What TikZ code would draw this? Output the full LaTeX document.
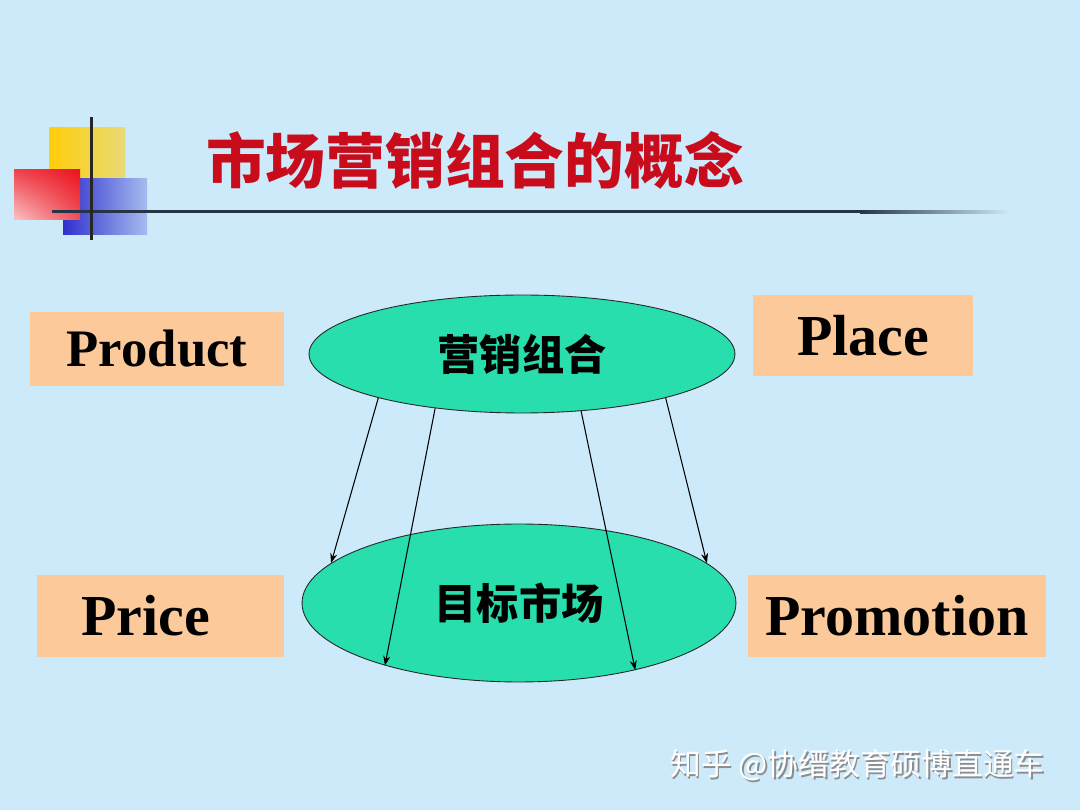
\documentclass[tikz,border=0pt]{standalone}
\usepackage{fontspec}
\setmainfont{Liberation Serif}
\newfontfamily\cjk{Noto Sans CJK SC}
\usepackage{tikz}
\usetikzlibrary{shapes.geometric, arrows.meta, shadings}
\definecolor{slidebg}{RGB}{205,234,250}
\definecolor{peach}{RGB}{252,202,154}
\definecolor{mint}{RGB}{40,222,172}
\definecolor{titlered}{RGB}{200,12,28}
\definecolor{decoyellow}{RGB}{255,206,10}
\definecolor{decoblue}{RGB}{48,48,205}
\definecolor{decored}{RGB}{235,20,32}
\definecolor{rulecolor}{RGB}{40,52,70}
\tikzstyle{factor} = [rectangle, fill=peach, inner sep=0pt, font=\bfseries\fontsize{33}{36}\selectfont]
\tikzstyle{oval} = [ellipse, draw=black!85, line width=0.5pt, fill=mint, inner sep=0pt, font=\cjk\bfseries\fontsize{24}{27}\selectfont]
\tikzstyle{arrow} = [line width=0.6pt,->,>={Stealth[length=5.5pt,width=4pt]}]

\begin{document}
\begin{tikzpicture}[x=0.02cm, y=-0.02cm]
            % slide background
            \fill[slidebg] (0,0) rectangle (1080,810);
            \useasboundingbox (0,0) rectangle (1080,810);
            
            % corner decoration
            \shade[left color=decoyellow, middle color=decoyellow, right color=decoyellow!55!slidebg] (49,128) rectangle (125,180);
            \shade[left color=decoblue, middle color=decoblue, right color=decoblue!25!slidebg] (63,179) rectangle (147,235);
            \shade[upper right=decored, upper left=decored!80!white, lower right=decored!75!white, lower left=decored!25!white] (14,170) rectangle (80,220);
            \fill[rulecolor] (52,210.5) rectangle (860,213.5);
            \shade[left color=rulecolor, right color=slidebg] (860,210.5) rectangle (1010,213.5);
            \fill[black!85] (89.5,117) rectangle (92.5,240);
            
            % Title
            \node[font=\cjk\bfseries\fontsize{34}{40}\selectfont, text=titlered] (title) at (475,160) {市场营销组合的概念};
            
            % the four Ps
            \node[factor, minimum width=5.08cm, minimum height=1.48cm, font=\bfseries\fontsize{30}{34}\selectfont] (product) at (157,349) {Product};
            \node[factor, minimum width=4.4cm, minimum height=1.62cm] (place) at (863,335.5) {Place};
            \node[factor, minimum width=4.94cm, minimum height=1.64cm] (price) at (160.5,616) {\hspace*{-0.6cm}Price};
            \node[factor, minimum width=5.96cm, minimum height=1.64cm] (promotion) at (897,616) {Promotion};
            
            % mix and target market
            \node[oval, minimum width=8.52cm, minimum height=2.36cm] (mix) at (522,354) {营销组合};
            \node[oval, minimum width=8.68cm, minimum height=3.16cm] (market) at (519,603) {目标市场};
            
            % Arrows
            \draw[arrow] (mix.-163) -- (market.168);
            \draw[arrow] (mix.-148.5) -- (market.-155);
            \draw[arrow] (mix.-44) -- (market.-30);
            \draw[arrow] (mix.-17.5) -- (market.12);
            
            % watermark
            \node[font=\cjk\fontsize{17.5}{20}\selectfont, text=black!45] (wmshade) at (859,767) {知乎 @协缙教育硕博直通车};
            \node[font=\cjk\fontsize{17.5}{20}\selectfont, text=white] (wm) at (857.5,765.5) {知乎 @协缙教育硕博直通车};
        \end{tikzpicture}
\end{document}
